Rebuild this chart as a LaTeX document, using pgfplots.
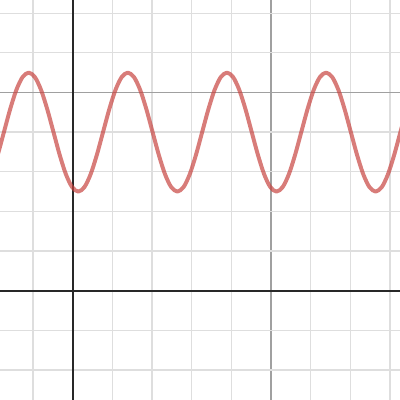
\documentclass[border=0pt]{standalone}
\usepackage{pgfplots}
\pgfplotsset{compat=1.18}
\definecolor{curvered}{RGB}{199,68,64}
\definecolor{minorgray}{RGB}{222,222,222}
\definecolor{majorgray}{RGB}{160,160,160}
\definecolor{axisblack}{RGB}{40,40,40}
\begin{document}
\begin{tikzpicture}
\begin{axis}[
    name=main,
    width=10cm, height=10cm,
    scale only axis,
    xmin=-1.834, xmax=8.255,
    ymin=-2.757, ymax=7.332,
    axis line style={draw=none},
    xtick={-5,5,10}, ytick={-5,5,10},
    minor xtick={-2,-1,1,2,3,4,6,7,8,9},
    minor ytick={-3,-2,-1,1,2,3,4,6,7,8},
    extra x ticks={0}, extra y ticks={0},
    extra tick style={grid=major, major grid style={axisblack, line width=1.4pt}},
    xticklabels={}, yticklabels={},
    extra x tick labels={}, extra y tick labels={},
    major tick length=0pt, minor tick length=0pt,
    grid=both,
    minor grid style={minorgray, line width=0.9pt},
    major grid style={majorgray, line width=0.9pt},
]
\addplot[curvered, draw opacity=0.7, line width=2.8pt, smooth, line join=round] coordinates {
(-2.36,2.5)(-2.20375,2.614)(-2.0475,2.939)(-1.89125,3.426)(-1.735,4)(-1.57875,4.574)(-1.4225,5.061)(-1.26625,5.386)
(-1.11,5.5)(-0.95375,5.386)(-0.7975,5.061)(-0.64125,4.574)(-0.485,4)(-0.32875,3.426)(-0.1725,2.939)(-0.01625,2.614)
(0.14,2.5)(0.29625,2.614)(0.4525,2.939)(0.60875,3.426)(0.765,4)(0.92125,4.574)(1.0775,5.061)(1.23375,5.386)
(1.39,5.5)(1.54625,5.386)(1.7025,5.061)(1.85875,4.574)(2.015,4)(2.17125,3.426)(2.3275,2.939)(2.48375,2.614)
(2.64,2.5)(2.79625,2.614)(2.9525,2.939)(3.10875,3.426)(3.265,4)(3.42125,4.574)(3.5775,5.061)(3.73375,5.386)
(3.89,5.5)(4.04625,5.386)(4.2025,5.061)(4.35875,4.574)(4.515,4)(4.67125,3.426)(4.8275,2.939)(4.98375,2.614)
(5.14,2.5)(5.29625,2.614)(5.4525,2.939)(5.60875,3.426)(5.765,4)(5.92125,4.574)(6.0775,5.061)(6.23375,5.386)
(6.39,5.5)(6.54625,5.386)(6.7025,5.061)(6.85875,4.574)(7.015,4)(7.17125,3.426)(7.3275,2.939)(7.48375,2.614)
(7.64,2.5)(7.79625,2.614)(7.9525,2.939)(8.10875,3.426)(8.265,4)(8.42125,4.574)
};
\end{axis}
\pgfresetboundingbox
\path (main.south west) rectangle (main.north east);
\end{tikzpicture}
\end{document}
